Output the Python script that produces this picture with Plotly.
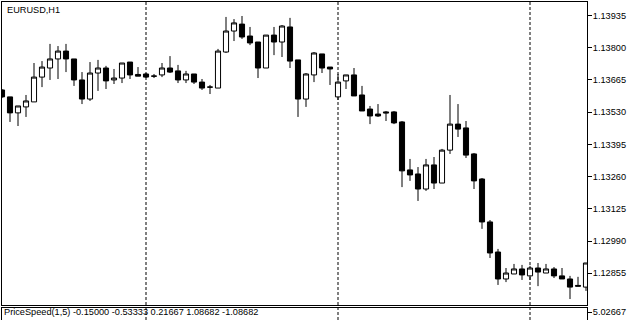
import plotly.graph_objects as go

# ---- data (EURUSD H1 candles) ----
bars = list(range(74))
opens = [1.13623, 1.13594, 1.13527, 1.13552, 1.13573, 1.13677, 1.13715, 1.13753, 1.13786, 1.13753,
         1.13665, 1.13585, 1.13694, 1.13715, 1.13665, 1.13673, 1.13740, 1.13688, 1.13690, 1.13681,
         1.13686, 1.13715, 1.13703, 1.13665, 1.13690, 1.13656, 1.13635, 1.13631, 1.13782, 1.13870,
         1.13899, 1.13849, 1.13824, 1.13715, 1.13853, 1.13824, 1.13887, 1.13749, 1.13585, 1.13686,
         1.13774, 1.13719, 1.13594, 1.13661, 1.13686, 1.13602, 1.13543, 1.13522, 1.13531, 1.13531,
         1.13489, 1.13288, 1.13271, 1.13208, 1.13309, 1.13233, 1.13371, 1.13480, 1.13464, 1.13355,
         1.13250, 1.13070, 1.12944, 1.12831, 1.12852, 1.12873, 1.12844, 1.12877, 1.12856, 1.12873,
         1.12844, 1.12831, 1.12804, 1.12797]
highs = [1.13627, 1.13594, 1.13556, 1.13602, 1.13736, 1.13744, 1.13816, 1.13807, 1.13816, 1.13753,
         1.13698, 1.13740, 1.13749, 1.13724, 1.13711, 1.13736, 1.13740, 1.13719, 1.13694, 1.13690,
         1.13736, 1.13765, 1.13728, 1.13703, 1.13690, 1.13669, 1.13644, 1.13795, 1.13929, 1.13920,
         1.13933, 1.13887, 1.13824, 1.13853, 1.13887, 1.13895, 1.13925, 1.13749, 1.13694, 1.13782,
         1.13774, 1.13719, 1.13690, 1.13686, 1.13715, 1.13640, 1.13556, 1.13564, 1.13535, 1.13535,
         1.13493, 1.13334, 1.13300, 1.13334, 1.13342, 1.13376, 1.13602, 1.13564, 1.13493, 1.13359,
         1.13254, 1.13078, 1.12957, 1.12877, 1.12894, 1.12890, 1.12886, 1.12898, 1.12894, 1.12881,
         1.12877, 1.12844, 1.12840, 1.12898]
lows = [1.13589, 1.13489, 1.13472, 1.13510, 1.13573, 1.13635, 1.13665, 1.13669, 1.13698, 1.13640,
        1.13564, 1.13577, 1.13619, 1.13627, 1.13648, 1.13652, 1.13669, 1.13681, 1.13673, 1.13673,
        1.13677, 1.13694, 1.13652, 1.13652, 1.13648, 1.13623, 1.13606, 1.13631, 1.13778, 1.13828,
        1.13837, 1.13811, 1.13673, 1.13715, 1.13769, 1.13761, 1.13715, 1.13510, 1.13552, 1.13656,
        1.13694, 1.13644, 1.13581, 1.13627, 1.13598, 1.13535, 1.13480, 1.13510, 1.13493, 1.13480,
        1.13216, 1.13242, 1.13158, 1.13200, 1.13208, 1.13233, 1.13355, 1.13426, 1.13338, 1.13208,
        1.13041, 1.12919, 1.12806, 1.12818, 1.12852, 1.12827, 1.12827, 1.12801, 1.12856, 1.12835,
        1.12831, 1.12747, 1.12801, 1.12781]
closes = [1.13594, 1.13527, 1.13556, 1.13577, 1.13677, 1.13719, 1.13753, 1.13786, 1.13753, 1.13665,
          1.13585, 1.13694, 1.13715, 1.13661, 1.13673, 1.13736, 1.13686, 1.13681, 1.13677, 1.13681,
          1.13715, 1.13698, 1.13665, 1.13690, 1.13656, 1.13631, 1.13635, 1.13786, 1.13870, 1.13904,
          1.13845, 1.13820, 1.13715, 1.13853, 1.13824, 1.13891, 1.13744, 1.13585, 1.13690, 1.13778,
          1.13715, 1.13711, 1.13656, 1.13686, 1.13598, 1.13535, 1.13514, 1.13514, 1.13527, 1.13485,
          1.13284, 1.13267, 1.13208, 1.13309, 1.13233, 1.13371, 1.13480, 1.13459, 1.13350, 1.13242,
          1.13070, 1.12940, 1.12831, 1.12856, 1.12873, 1.12848, 1.12877, 1.12860, 1.12873, 1.12844,
          1.12831, 1.12797, 1.12801, 1.12898]
price_ticks = [1.12855, 1.12990, 1.13125, 1.13260, 1.13395, 1.13530, 1.13665, 1.13800, 1.13935]
day_separators = [18, 42, 66]
symbol_label = "EURUSD,H1"
indicator_label = "PriceSpeed(1,5) -0.15000 -0.53333 0.21667 1.08682 -1.08682"
indicator_ticks = [5.02667]

FONT = "Liberation Sans, Arial, sans-serif"
FSIZE = 9.2

fig = go.Figure()
fig.add_trace(go.Candlestick(
    x=bars, open=opens, high=highs, low=lows, close=closes,
    increasing=dict(line=dict(color="black", width=1), fillcolor="white"),
    decreasing=dict(line=dict(color="black", width=1), fillcolor="black"),
    whiskerwidth=0, xaxis="x", yaxis="y", hoverinfo="skip", showlegend=False))
fig.add_trace(go.Scatter(x=[], y=[], xaxis="x2", yaxis="y2", showlegend=False))

axis_common = dict(showline=True, mirror=True, linecolor="black", linewidth=1,
                   showgrid=False, zeroline=False)

fig.update_layout(
    width=640, height=320,
    margin=dict(l=2, r=53, t=2, b=0),
    paper_bgcolor="white", plot_bgcolor="white",
    showlegend=False,
    boxgap=0.2, boxgroupgap=0.2,
    xaxis=dict(domain=[0, 1], range=[0, 73.125], anchor="y", showticklabels=False, ticks="",
               rangeslider=dict(visible=False), **axis_common),
    yaxis=dict(domain=[0.0456, 1], range=[1.127199, 1.139916], side="right", anchor="x",
               tickvals=price_ticks, ticktext=[f"{v:.5f}" for v in price_ticks],
               ticks="outside", ticklen=4, tickcolor="black", tickwidth=1,
               ticklabelstandoff=-1,
               tickfont=dict(family=FONT, size=FSIZE, color="black"), **axis_common),
    xaxis2=dict(domain=[0, 1], range=[0, 73.125], anchor="y2", showticklabels=False, ticks="",
                **axis_common),
    yaxis2=dict(domain=[0, 0.0393], range=[4.0, 5.604], side="right", anchor="x2",
                tickvals=indicator_ticks, ticktext=[f"{v:.5f}" for v in indicator_ticks],
                ticks="outside", ticklen=4, tickcolor="black", tickwidth=1,
                ticklabelstandoff=-1,
                tickfont=dict(family=FONT, size=FSIZE, color="black"), **axis_common),
)

for d in day_separators:
    fig.add_shape(type="line", xref="x", yref="paper", x0=d, x1=d, y0=0, y1=1,
                  line=dict(color="black", width=1, dash="3px,2px"), layer="below")

fig.add_annotation(text=symbol_label, xref="paper", yref="paper", x=0, y=0.9748,
                   xanchor="left", yanchor="middle", xshift=3, showarrow=False,
                   font=dict(family=FONT, size=FSIZE, color="black"))
fig.add_annotation(text=indicator_label, xref="paper", yref="paper", x=0, y=0.0236,
                   xanchor="left", yanchor="middle", xshift=0, showarrow=False,
                   font=dict(family=FONT, size=FSIZE, color="black"))

fig.write_html("out.html")
